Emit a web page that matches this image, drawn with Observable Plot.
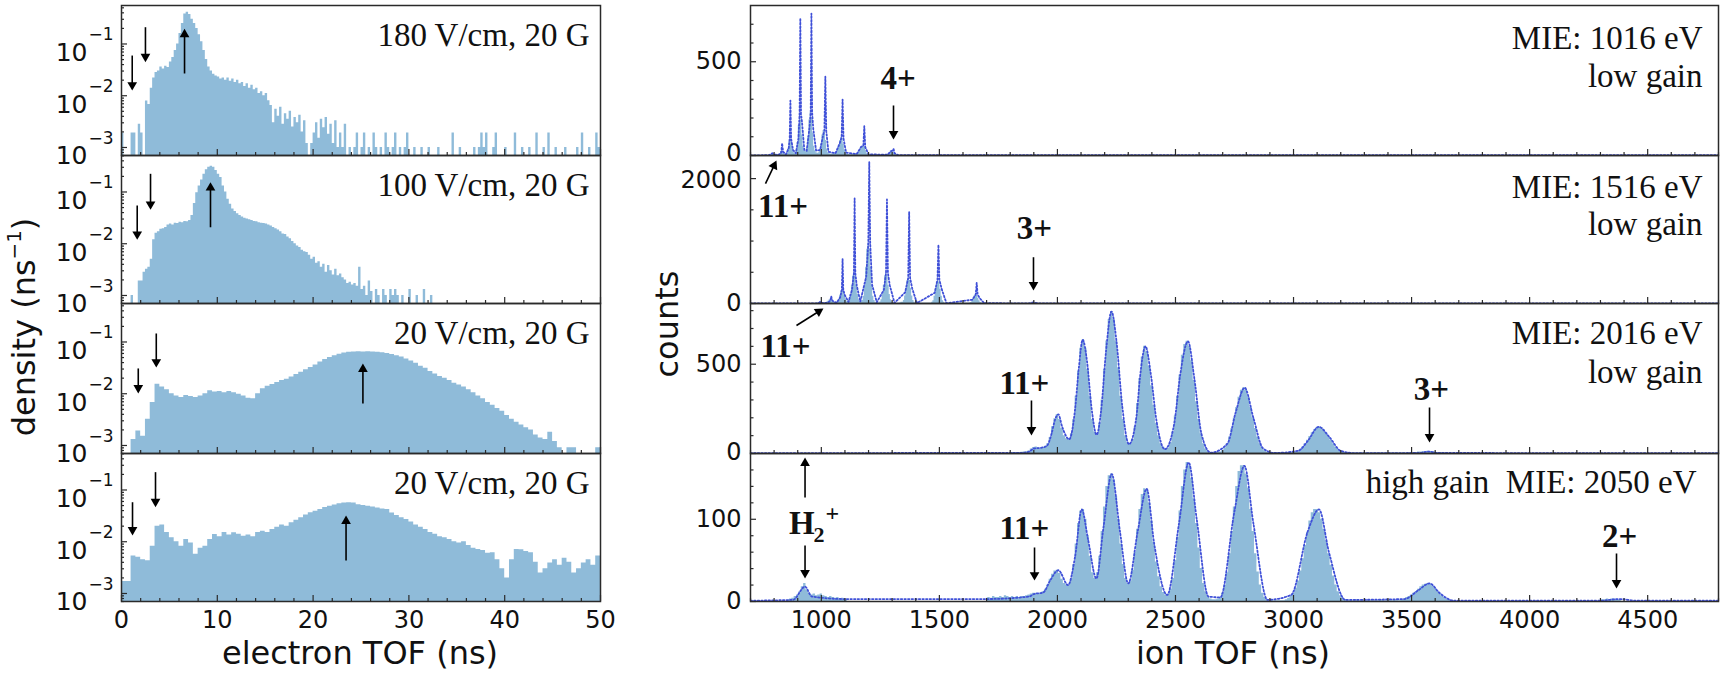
<!DOCTYPE html>
<html><head><meta charset="utf-8">
<script src="https://cdn.jsdelivr.net/npm/d3@7"></script>
<script src="https://cdn.jsdelivr.net/npm/@observablehq/plot@0.6"></script>
<style>
html,body{margin:0;padding:0;background:#fff;}
#fig{position:relative;width:1724px;height:681px;overflow:hidden;background:#fff;}
#fig svg{position:absolute;}
.t{position:absolute;font-family:"DejaVu Sans",sans-serif;font-size:32px;color:#111;white-space:nowrap;transform:translate(-50%,-50%);line-height:1;}
.t.rot{transform:translate(-50%,-50%) rotate(-90deg);}
.t sup{font-size:0.62em;vertical-align:0.7em;line-height:0;}
</style></head>
<body><div id="fig"></div>
<script>
// ================= DATA =================
// electron TOF panels (density per ns), left column
const eLabels = ["180 V/cm, 20 G", "100 V/cm, 20 G", "20 V/cm, 20 G", "20 V/cm, 20 G"];
const eBinWidth = [0.25, 0.25, 0.5, 0.5];
const eDensity180 = [
0.0019,0,0,0,0.0019,0.0019,0,0.0028,0.0019,0,0.0079,0.0068,0.014,0.022,0.028,0.030,0.036,0.033,0.037,0.035,
0.045,0.055,0.075,0.10,0.16,0.25,0.38,0.41,0.37,0.30,0.25,0.20,0.15,0.11,0.075,0.050,0.036,0.030,0.026,0.024,
0.023,0.021,0.022,0.020,0.022,0.019,0.021,0.018,0.020,0.017,0.018,0.015,0.017,0.014,0.016,0.013,0.014,0.011,0.012,0.010,
0.011,0.008,0.0065,0.0030,0.0055,0.0040,0.0060,0.0028,0.0045,0.0035,0.0050,0.0025,0.0038,0.0030,0.0042,0.0020,0.0033,0.0012,0,0.0012,
0.0019,0.0030,0.0015,0.0035,0.0024,0.0038,0.0018,0.0028,0.0012,0.0033,0.0010,0.0019,0.0010,0.0028,0,0.0010,0,0.0010,0.0019,0,
0.0010,0.0019,0,0.0010,0,0.0019,0.0010,0,0.0010,0,0.0019,0.0010,0,0.0010,0.0019,0,0.0010,0,0.0010,0.0019,
0,0,0.0010,0,0,0.0010,0,0,0.0010,0,0,0,0.0010,0,0,0,0,0,0.0019,0,
0,0.0010,0,0,0,0,0,0.0010,0,0.0010,0.0019,0.0010,0.0019,0,0,0.0010,0.0019,0,0,0,
0.0010,0,0,0,0.0019,0,0,0.0010,0,0,0.0010,0,0,0.0019,0,0,0.0010,0,0.0019,0,
0,0.0010,0,0,0,0.0010,0,0,0,0,0.0010,0,0.0019,0,0,0.0010,0,0,0.0019,0.0010];
const eDensity100 = [
0,0,0,0,0.0010,0,0,0.0019,0.0019,0.0028,0.0032,0.0035,0.0050,0.0120,0.0160,0.0170,0.0190,0.0195,0.0205,0.0230,
0.0240,0.0230,0.0250,0.0245,0.0260,0.0255,0.0270,0.0265,0.0280,0.0350,0.0600,0.0970,0.1300,0.1700,0.2200,0.2700,0.3000,0.3150,0.3000,0.2600,
0.2200,0.1900,0.1300,0.1000,0.0720,0.0580,0.0470,0.0420,0.0380,0.0350,0.0330,0.0310,0.0300,0.0290,0.0280,0.0270,0.0265,0.0255,0.0250,0.0245,
0.0240,0.0230,0.0220,0.0205,0.0195,0.0185,0.0170,0.0155,0.0150,0.0135,0.0125,0.0110,0.0100,0.0090,0.0085,0.0075,0.0070,0.0068,0.0060,0.0050,
0.0055,0.0042,0.0045,0.0035,0.0040,0.0028,0.0038,0.0030,0.0025,0.0032,0.0024,0.0026,0.0022,0.0020,0.0017,0.0018,0.0016,0.0017,0.0015,0.0035,
0.0013,0.0015,0.0010,0.0019,0.0012,0,0.0013,0.0010,0,0.0013,0.0010,0,0.0013,0.0010,0.0013,0.0010,0,0.0010,0,0,
0.0013,0,0,0.0010,0,0,0.0013,0,0,0.0010];
const eDensity20a = [
0,0,0.0013,0.0019,0.0015,0.0032,0.0068,0.0153,0.0135,0.0120,0.0100,0.0090,0.0085,0.0092,0.0088,0.0085,0.0090,0.0100,0.0114,0.0108,
0.0110,0.0104,0.0110,0.0105,0.0098,0.0090,0.0082,0.0080,0.0100,0.0125,0.0140,0.0150,0.0165,0.0180,0.0190,0.0210,0.0235,0.0260,0.0290,0.0320,
0.0360,0.0410,0.0460,0.0500,0.0540,0.0580,0.0610,0.0630,0.0640,0.0650,0.0640,0.0650,0.0640,0.0630,0.0620,0.0600,0.0570,0.0540,0.0510,0.0470,
0.0430,0.0390,0.0340,0.0310,0.0270,0.0240,0.0215,0.0200,0.0180,0.0160,0.0148,0.0135,0.0120,0.0105,0.0090,0.0080,0.0068,0.0060,0.0052,0.0046,
0.0038,0.0032,0.0028,0.0025,0.0022,0.0020,0.0016,0.0014,0.0013,0.0018,0.0012,0.0009,0,0.0009,0.0009,0,0,0,0,0.0009];
const eDensity20b = [
0.0017,0.0017,0.0053,0.0050,0.0045,0.0043,0.0082,0.0200,0.0210,0.0150,0.0120,0.0100,0.0082,0.0110,0.0095,0.0057,0.0075,0.0082,0.0110,0.0138,
0.0125,0.0150,0.0135,0.0149,0.0140,0.0128,0.0135,0.0125,0.0150,0.0160,0.0150,0.0173,0.0190,0.0210,0.0200,0.0232,0.0260,0.0290,0.0330,0.0362,
0.0390,0.0420,0.0460,0.0487,0.0510,0.0540,0.0560,0.0565,0.0560,0.0520,0.0500,0.0487,0.0470,0.0450,0.0430,0.0420,0.0360,0.0320,0.0290,0.0269,
0.0240,0.0210,0.0190,0.0173,0.0150,0.0140,0.0125,0.0119,0.0110,0.0100,0.0095,0.0100,0.0085,0.0075,0.0071,0.0068,0.0060,0.0061,0.0045,0.0030,
0.0020,0.0045,0.0071,0.0070,0.0065,0.0061,0.0040,0.0025,0.0030,0.0039,0.0045,0.0035,0.0048,0.0040,0.0025,0.0030,0.0039,0.0045,0.0035,0.0053];
// arrows: [x tail, y tail, x tip, y tip] in (ns, density)
const eArrows180 = [[1.12,0.0598,1.12,0.0126],[2.5,0.211,2.5,0.0445],[6.58,0.0269,6.58,0.196]];
const eArrows100 = [[1.64,0.0548,1.64,0.0119],[3.03,0.2245,3.03,0.0453],[9.29,0.0208,9.29,0.1545]];
const eArrows20a = [[1.75,0.0308,1.75,0.0101],[3.63,0.146,3.63,0.0321],[25.2,0.00647,25.2,0.0384]];
const eArrows20b = [[1.15,0.058,1.15,0.0132],[3.55,0.221,3.55,0.0465],[23.44,0.00434,23.44,0.0321]];
const eXTicks = [0, 10, 20, 30, 40, 50];
const eYTicks = [1e-3, 1e-2, 1e-1];
const eYExp = ["\u22123", "\u22122", "\u22121"];

// ion TOF panels (counts), right column
const ionTitle = ["MIE: 1016 eV", "MIE: 1516 eV", "MIE: 2016 eV", "high gain\u00a0\u00a0MIE: 2050 eV"];
const ionGain = ["low gain", "low gain", "low gain", ""];
const ionYMax = [800, 2370, 840, 180];
const ionYTickStep = [100, 500, 100, 20];
const ionYLabels = [[0, 500], [0, 2000], [0, 500], [0, 100]];
const ionXTicks = [1000, 1500, 2000, 2500, 3000, 3500, 4000, 4500];
const ionHistStart = [780, 980, 1800, 1700];
const ionHistStep = [5, 5, 10, 10];
const ionCounts1016 = [
0,2,5,8,4,3,2,3,5,10,22,27,15,8,6,12,35,75,90,70,
35,15,10,25,70,160,222,190,110,50,25,20,40,100,190,230,200,120,50,25,
15,12,15,30,60,110,133,125,80,35,15,10,8,8,8,10,12,20,35,55,
80,98,90,60,30,12,7,5,5,4,5,5,6,7,9,12,20,35,45,50,
53,45,25,10,5,3,3,4,3,3,2,3,3,2,3,3,2,3,3,4,
4,6,15,25,27,20,10,5,3,2,2,1];
const ionCounts1516 = [
3,5,12,15,8,5,5,5,8,19,38,58,64,58,38,19,10,12,27,67,
134,201,223,201,134,67,27,35,59,146,293,439,488,439,293,146,59,34,30,48,
116,290,579,869,965,869,579,290,116,48,20,10,8,12,24,59,146,293,439,488,
439,293,146,59,24,10,6,5,5,5,5,8,20,20,49,122,245,367,408,367,
245,122,49,20,5,5,5,5,5,5,5,5,5,5,5,5,5,5,19,46,
115,229,344,382,344,229,115,46,19,4,4,4,4,4,4,4,4,4,4,4,
4,4,4,4,4,4,4,4,4,4,7,17,43,86,129,143,129,86,43,17,
7,3,3,3,3];
const ionCounts2016 = [
4,5,4,6,5,7,8,10,14,25,
33,36,32,30,34,40,55,90,150,195,
219,190,140,100,82,80,110,190,320,460,
590,637,590,470,320,190,120,110,170,300,
470,630,750,795,750,630,480,320,190,100,
60,55,80,150,280,420,540,600,570,490,
380,270,170,100,55,35,24,30,60,120,
210,320,440,550,610,628,600,520,410,290,
190,110,55,25,10,5,4,5,6,8,
16,31,55,92,140,199,258,315,354,368,
354,315,258,199,140,92,55,31,16,8,
5,4,4,4,4,4,5,4,4,4,
5,9,15,24,37,54,74,95,116,133,
145,149,145,133,116,95,74,54,37,24,
15,9,5,4,3,3,3,2,3,3,
2,3,3,2,3,3,2,3,3,2,
3,3,2,3,3,2,3,3,2,3,
4,5,6,8,9,10,11,12,11,10,
8,6,5,4,3,3];
const ionCounts2050 = [
4,5,4,6,5,5,6,5,7,6,
5,6,5,6,5,6,6,7,8,9,
10,10,9,10,12,15,20,27,33,37,
38,34,27,22,20,20,28,45,70,95,
110,112,100,80,55,35,28,35,55,85,
115,140,153,155,148,128,100,70,45,28,
22,25,38,60,88,112,130,137,135,120,
98,72,48,30,18,11,8,9,15,28,
50,78,110,140,160,169,165,150,125,95,
65,40,22,12,6,3,2,2,3,5,
10,20,35,58,85,115,140,158,165,165,
155,138,112,85,58,36,20,10,5,2,
1,1,1,1,1,1,1,2,4,7,
10,16,25,37,52,68,84,98,108,112,
112,108,100,88,74,58,44,31,20,12,
7,4,2,1,1,1,1,2,1,1,
1,1,2,1,1,1,1,2,1,1,
1,1,1,2,1,1,2,3,5,6,
8,10,12,15,18,20,21,22,21,19,
16,13,10,7,5,3,2,1,1,1];
const ionCountsH2Start = 860;
const ionCountsH2 = [2,3,4,6,8,12,18,22,14,10,8,9,7,8,9,7,6,5,6,5,4,5,3,4,3,2];
const ionCountsTailStart = 4300;
const ionCountsTail = [1,2,2,3,2,3,3,2,2,1];
// fit curves (dotted): x in ns, y in counts
const ionFit1016X = [700,780,792,800,820,830,834,838,850,862,866,869,872,880,892,903,908,911,914,918,928,938,950,955,958,961,966,978,995,1008,1013,1017,1021,1030,1060,1078,1086,1090,1094,1105,1150,1168,1178,1182,1186,1200,1280,1295,1302,1306,1310,1325,4800];
const ionFit1016Y = [0,2,12,4,4,15,65,20,6,40,90,293,90,30,12,90,222,732,222,180,30,25,150,230,757,230,140,25,30,110,133,420,130,20,12,65,98,298,90,15,8,45,53,156,45,6,4,22,27,35,12,2,2];
const ionFit1516X = [700,980,990,996,1002,1020,1034,1039,1042,1045,1050,1065,1080,1087,1090,1093,1100,1115,1130,1138,1141,1144,1150,1165,1190,1199,1203,1207,1215,1235,1265,1274,1278,1282,1290,1310,1355,1368,1372,1376,1385,1405,1480,1492,1496,1500,1510,1530,1640,1654,1658,1662,1672,1690,1880,1898,1915,4800];
const ionFit1516Y = [0,3,10,30,10,8,30,60,117,60,35,12,100,220,712,220,130,25,220,488,1683,488,290,30,430,965,2266,965,300,20,220,488,1667,488,290,8,180,408,1470,408,240,6,170,382,940,382,230,5,60,143,329,143,80,4,3,20,3,2];
const ionFit2016X = [700,1850,1880,1900,1930,1955,1975,1990,2004,2020,2050,2075,2090,2107,2125,2145,2166,2185,2205,2229,2250,2275,2303,2335,2350,2373,2395,2420,2455,2495,2520,2553,2580,2610,2650,2720,2755,2793,2830,2870,2920,3020,3060,3107,3150,3200,3260,3530,3572,3610,4800];
const ionFit2016Y = [2,4,10,28,32,42,110,190,219,150,80,250,470,637,520,250,105,240,560,795,630,260,52,210,430,600,450,180,24,170,440,628,420,110,5,55,230,368,200,30,3,15,70,149,95,15,2,3,11,3,2];
const ionFit2050X = [700,880,931,960,1100,1700,1880,1900,1940,1970,2004,2045,2075,2103,2130,2165,2195,2230,2265,2300,2340,2378,2410,2465,2515,2556,2590,2640,2690,2750,2792,2830,2890,2990,3060,3108,3150,3220,3470,3530,3576,3620,3680,4300,4380,4450,4800];
const ionFit2050Y = [1,2,18,6,3,3,6,9,11,26,38,20,55,112,75,28,90,155,85,22,85,137,70,8,95,169,100,6,5,110,165,95,2,8,85,112,60,2,3,14,22,10,1,1,3,1,1];
// annotations (ns, counts)
const ionNotes1016 = [{t:"4+", x:1325, y:357}];
const ionNotes1516 = [{t:"11+", x:838, y:1381}, {t:"3+", x:1903, y:1035}];
const ionNotes2016 = [{t:"11+", x:848, y:538}, {t:"11+", x:1860, y:334}, {t:"3+", x:3584, y:297}];
const ionNotes2050 = [{t:"11+", x:1860, y:76.6}, {t:"2+", x:4381, y:66}];
const ionH2Label = [{t:"H", x:863.5, y:82.3, s:33}, {t:"2", x:966.8, y:72.1, s:22}, {t:"+", x:1017.7, y:98.5, s:24}];
const ionArrows1016 = [[1305.7,266.7,1305.7,85.3]];
const ionArrows1516 = [[763.5,1921,810,2289],[1898.6,741,1898.6,208]];
const ionArrows2016 = [[894.8,716.8,1009,812],[1890,296.8,1890,100.8],[3576,257.6,3576,61.6]];
const ionArrows2050 = [[931,126.5,931,175.1],[931,68.1,931,28],[1903,65.7,1903,25.5],[4368,58.4,4368,15.8]];

// ================= STYLE / LAYOUT =================
const ROWS = [5, 155, 303, 453, 601];
const HIST = "#8fbbd9", FIT = "#3f50d8", AX = "#2a2a2a", INK = "#111";
const SERIF = "'Liberation Serif','Times New Roman',serif";
const SANS = "'DejaVu Sans',sans-serif";
const E_YMIN = 7e-4, PX_DECADE = 51.75;
const fig = document.getElementById("fig");

const eDensity = [eDensity180, eDensity100, eDensity20a, eDensity20b];
const eArrows = [eArrows180, eArrows100, eArrows20a, eArrows20b];
const ionCounts = [ionCounts1016, ionCounts1516, ionCounts2016, ionCounts2050];
const ionFitX = [ionFit1016X, ionFit1516X, ionFit2016X, ionFit2050X];
const ionFitY = [ionFit1016Y, ionFit1516Y, ionFit2016Y, ionFit2050Y];
const ionNotes = [ionNotes1016, ionNotes1516, ionNotes2016, ionNotes2050];
const ionArrows = [ionArrows1016, ionArrows1516, ionArrows2016, ionArrows2050];
const ionTitleDy = [43, 42, 40, 39];
const ionGainDy = [81, 79, 79, 0];
const ionTitleDx = [-16, -16, -16, -22];
const ionYLabelDy = [[-2, 0], [0, 2], [-1, 0], [0, 0]];

function place(svg, left, top) {
  svg.style.left = left + "px";
  svg.style.top = top + "px";
  fig.appendChild(svg);
}

function arrowMarks(list, xs, ys) {
  const r = 3.6, off = 1.555 * r;
  const rows = list.map(([x1, y1, x2, y2]) => {
    const p1 = [xs(x1), ys(y1)], p2 = [xs(x2), ys(y2)];
    const dx = p2[0] - p1[0], dy = p2[1] - p1[1], L = Math.hypot(dx, dy);
    const ux = dx / L, uy = dy / L;
    const cx = p2[0] - ux * off, cy = p2[1] - uy * off;
    return {x1, y1, hx: xs.invert(cx), hy: ys.invert(cy), angle: Math.atan2(ux, -uy) * 180 / Math.PI};
  });
  return [
    Plot.link(rows, {x1: "x1", y1: "y1", x2: "hx", y2: "hy", stroke: "#000", strokeWidth: 1.6}),
    Plot.dot(rows, {x: "hx", y: "hy", symbol: "triangle", r, rotate: "angle", fill: "#000"})
  ];
}

function leftPanel(i) {
  const top = ROWS[i], h = ROWS[i + 1] - top, last = i === 3;
  const mt = 6, mb = last ? 80 : 6, ml = 121, mr = 6, fw = 479;
  const width = ml + fw + mr, height = h + mt + mb;
  const yMin = E_YMIN, yMax = Math.pow(10, Math.log10(yMin) + h / PX_DECADE);
  const xs = d3.scaleLinear([0, 50], [ml, ml + fw]);
  const ys = d3.scaleLog([yMin, yMax], [mt + h, mt]);
  const vals = eDensity[i], w = eBinWidth[i], floor = yMin / 1000;
  const table = vals.map((v, k) => ({x: k * w, y: v > 0 ? v : floor}));
  table.push({x: vals.length * w, y: table[table.length - 1].y});
  const xt = d3.range(0, 50.01, 2).map(v => ({v, major: v % 10 === 0}));
  const yt = [];
  for (let e = -4; e <= 0; e++) for (let m = 1; m <= 9; m++) {
    const v = m * Math.pow(10, e);
    if (v >= yMin * 0.999 && v <= yMax) yt.push({v, major: m === 1});
  }
  const up = len => yMin * Math.pow(10, len / PX_DECADE);
  const rt = len => len * 50 / fw;
  const marks = [
    Plot.areaY(table, {x: "x", y1: floor, y2: "y", curve: "step-after", fill: HIST, clip: true}),
    Plot.ruleX(xt, {x: "v", y1: yMin, y2: d => up(d.major ? 6 : 3), stroke: AX, strokeWidth: 1.2}),
    Plot.ruleY(yt, {y: "v", x1: 0, x2: d => rt(d.major ? 6 : 3), stroke: AX, strokeWidth: 1.2}),
    Plot.text(eYTicks, {x: 0, y: d => d, text: () => "10", dx: -34, dy: 9, textAnchor: "end", fontSize: 25, fill: INK}),
    Plot.text(eYTicks, {x: 0, y: d => d, text: (d, k) => eYExp[k], dx: -8, dy: -9, textAnchor: "end", fontSize: 17, fill: INK}),
    Plot.text([eLabels[i]], {frameAnchor: "top-right", text: d => d, dx: -11, dy: 40, lineAnchor: "bottom", textAnchor: "end", fontFamily: SERIF, fontSize: 33, fill: INK}),
    ...arrowMarks(eArrows[i], xs, ys),
    Plot.frame({stroke: AX, strokeWidth: 1.5})
  ];
  if (last) marks.push(Plot.text(eXTicks, {x: d => d, y: yMin, text: d => String(d), dy: 19, fontSize: 24, fill: INK}));
  const svg = Plot.plot({
    width, height, marginTop: mt, marginBottom: mb, marginLeft: ml, marginRight: mr,
    x: {domain: [0, 50], axis: null},
    y: {type: "log", domain: [yMin, yMax], axis: null},
    style: {background: "transparent", overflow: "visible", fontFamily: SANS, fontSize: "24px"},
    marks
  });
  place(svg, 0, top - mt);
}

function rightPanel(i) {
  const top = ROWS[i], h = ROWS[i + 1] - top, last = i === 3;
  const mt = 6, mb = last ? 80 : 6, ml = 110, mr = 6, fw = 968;
  const width = ml + fw + mr, height = h + mt + mb, left = 640;
  const yMax = ionYMax[i];
  const xs = d3.scaleLinear([700, 4800], [ml, ml + fw]);
  const ys = d3.scaleLinear([0, yMax], [mt + h, mt]);
  const seg = (start, step, arr) => arr.map((v, k) => ({x: start + k * step, y: v}));
  const hists = [seg(ionHistStart[i], ionHistStep[i], ionCounts[i])];
  if (i === 3) {
    hists.push(seg(ionCountsH2Start, 10, ionCountsH2));
    hists.push(seg(ionCountsTailStart, 10, ionCountsTail));
  }
  const fit = ionFitX[i].map((x, k) => ({x, y: ionFitY[i][k]}));
  const xt = d3.range(700, 4800.1, 100).map(v => ({v, major: v % 500 === 0}));
  const yt = d3.range(0, yMax - 1, ionYTickStep[i]).map(v => ({v, major: ionYLabels[i].includes(v)}));
  const up = len => len * yMax / h;
  const rt = len => len * 4100 / fw;
  const ylab = ionYLabels[i].map((v, k) => ({v, dy: ionYLabelDy[i][k]}));
  const marks = [
    ...hists.map(t => Plot.areaY(t, {x: "x", y: "y", curve: "step", fill: HIST, clip: true})),
    Plot.line(fit, {x: "x", y: "y", stroke: FIT, strokeWidth: 1.8, strokeDasharray: "1.5,2.1", curve: i >= 2 ? "monotone-x" : "linear", clip: true}),
    Plot.ruleX(xt, {x: "v", y1: 0, y2: d => up(d.major ? 6 : 3), stroke: AX, strokeWidth: 1.2}),
    Plot.ruleY(yt, {y: "v", x1: 700, x2: d => 700 + rt(d.major ? 6 : 3.5), stroke: AX, strokeWidth: 1.2}),
    ...ylab.map(d => Plot.text([d], {x: 700, y: "v", text: r => String(r.v), dx: -9, dy: d.dy, textAnchor: "end", fontSize: 24, fill: INK})),
    Plot.text([ionTitle[i]], {frameAnchor: "top-right", text: d => d, dx: ionTitleDx[i], dy: ionTitleDy[i], lineAnchor: "bottom", textAnchor: "end", fontFamily: SERIF, fontSize: 33, fill: INK}),
    Plot.text(ionNotes[i], {x: "x", y: "y", text: "t", lineAnchor: "bottom", textAnchor: "middle", fontFamily: SERIF, fontWeight: "bold", fontSize: 33, fill: INK}),
    ...arrowMarks(ionArrows[i], xs, ys),
    Plot.frame({stroke: AX, strokeWidth: 1.5})
  ];
  if (ionGain[i]) marks.push(Plot.text([ionGain[i]], {frameAnchor: "top-right", text: d => d, dx: ionTitleDx[i], dy: ionGainDy[i], lineAnchor: "bottom", textAnchor: "end", fontFamily: SERIF, fontSize: 33, fill: INK}));
  if (i === 3) marks.push(Plot.text(ionH2Label, {x: "x", y: "y", text: "t", fontSize: "s", lineAnchor: "bottom", textAnchor: "start", fontFamily: SERIF, fontWeight: "bold", fill: INK}));
  if (last) marks.push(Plot.text(ionXTicks, {x: d => d, y: 0, text: d => String(d), dy: 19, fontSize: 24, fill: INK}));
  const svg = Plot.plot({
    width, height, marginTop: mt, marginBottom: mb, marginLeft: ml, marginRight: mr,
    x: {domain: [700, 4800], axis: null},
    y: {domain: [0, yMax], axis: null},
    style: {background: "transparent", overflow: "visible", fontFamily: SANS, fontSize: "24px"},
    marks
  });
  place(svg, left, top - mt);
}

for (let i = 0; i < 4; i++) { leftPanel(i); rightPanel(i); }

function title(html, x, y, rot) {
  const d = document.createElement("div");
  d.className = "t" + (rot ? " rot" : "");
  d.innerHTML = html;
  d.style.left = x + "px";
  d.style.top = y + "px";
  fig.appendChild(d);
}
title("electron TOF (ns)", 360, 653, false);
title("ion TOF (ns)", 1233, 653, false);
title("density (ns<sup>\u22121</sup>)", 24, 327, true);
title("counts", 667, 324, true);
</script>
</body></html>
